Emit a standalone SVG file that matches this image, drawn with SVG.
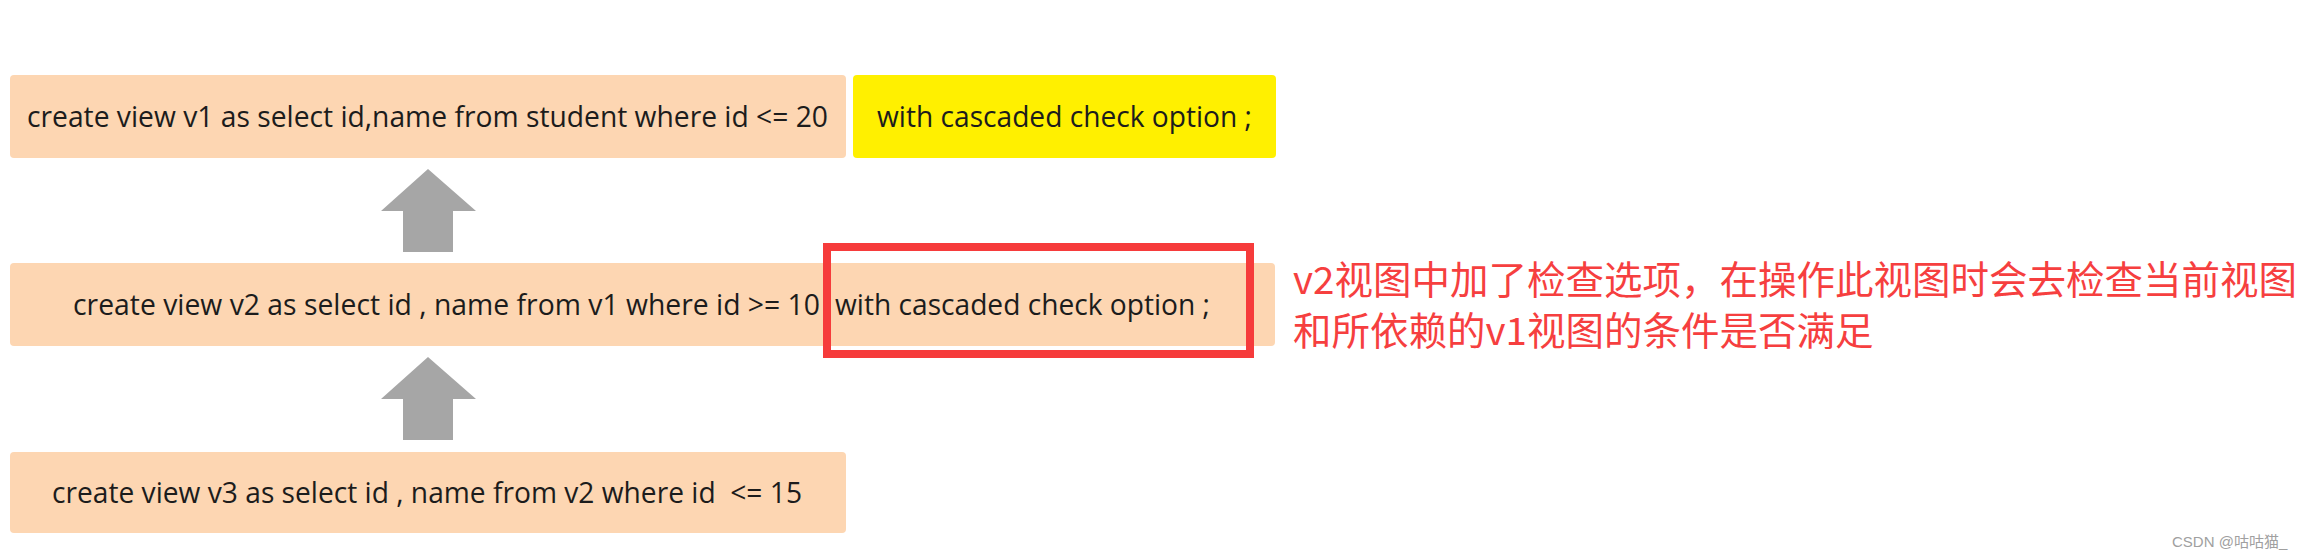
<svg xmlns="http://www.w3.org/2000/svg" width="2303" height="560" viewBox="0 0 2303 560">
<style>
.box{fill:#fdd6b2}
.yel{fill:#fff000}
.t{font-family:"Open Sans","Liberation Sans",sans-serif;font-size:29px;fill:#1c1c1c;white-space:pre}
.arr{fill:#a6a6a6}
.note{font-family:"Noto Sans CJK SC","Liberation Sans",sans-serif;font-size:38.5px;fill:#f63f3f}
.wm{font-family:"Liberation Sans","Noto Sans CJK SC",sans-serif;font-size:15px;fill:#a0a0a0}
</style>
<rect width="2303" height="560" fill="#ffffff"/>
<g id="v1">
<rect class="box" x="10" y="75" width="836" height="83" rx="4"/>
<text class="t" x="27" y="127" textLength="801" lengthAdjust="spacingAndGlyphs">create view v1 as select id,name from student where id &lt;= 20</text>
</g>
<g id="v1-option">
<rect class="yel" x="853" y="75" width="423" height="83" rx="4"/>
<text class="t" x="877" y="127" textLength="375" lengthAdjust="spacingAndGlyphs">with cascaded check option ;</text>
</g>
<g id="v2">
<rect class="box" x="10" y="263" width="1265" height="83" rx="4"/>
<text class="t" x="73" y="315" textLength="747" lengthAdjust="spacingAndGlyphs">create view v2 as select id , name from v1 where id &gt;= 10</text>
<text class="t" x="835" y="315" textLength="375" lengthAdjust="spacingAndGlyphs">with cascaded check option ;</text>
</g>
<g id="highlight">
<rect x="827" y="247" width="423" height="107" fill="none" stroke="#f63b3b" stroke-width="8"/>
</g>
<g id="v3">
<rect class="box" x="10" y="452" width="836" height="81" rx="4"/>
<text class="t" x="52" y="503" textLength="750" lengthAdjust="spacingAndGlyphs" xml:space="preserve">create view v3 as select id , name from v2 where id  &lt;= 15</text>
</g>
<g id="connectors">
<polygon class="arr" points="428,169 476,211 453,211 453,252 403,252 403,211 381,211"/>
<polygon class="arr" points="428,357 476,399 453,399 453,440 403,440 403,399 381,399"/>
</g>
<g id="note">
<text class="note" x="1293" y="294">v2视图中加了检查选项，在操作此视图时会去检查当前视图</text>
<text class="note" x="1293" y="345">和所依赖的v1视图的条件是否满足</text>
</g>
<text class="wm" x="2172" y="547">CSDN @咕咕猫_</text>
</svg>
